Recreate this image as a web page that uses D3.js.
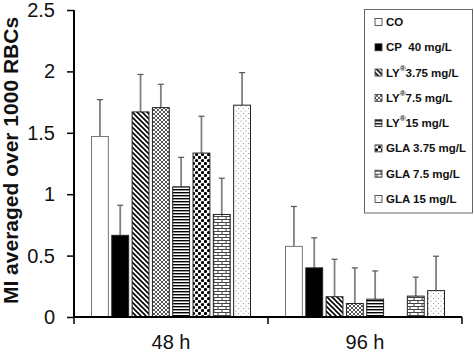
<!DOCTYPE html>
<html><head><meta charset="utf-8">
<script src="https://cdn.jsdelivr.net/npm/d3@7"></script>
<style>body{margin:0;background:#fff}svg{display:block}</style>
</head><body>
<svg id="c" width="474" height="354"></svg>
<script>
const categories = ["48 h", "96 h"];
const series = ["CO", "CP 40 mg/L", "LY 3.75 mg/L", "LY 7.5 mg/L", "LY 15 mg/L", "GLA 3.75 mg/L", "GLA 7.5 mg/L", "GLA 15 mg/L"];
const values48 = [1.47, 0.665, 1.67, 1.705, 1.06, 1.335, 0.835, 1.725];
const errors48 = [1.77, 0.91, 1.975, 1.895, 1.30, 1.635, 1.13, 1.99];
const values96 = [0.575, 0.40, 0.165, 0.11, 0.145, null, 0.17, 0.215];
const errors96 = [0.90, 0.645, 0.47, 0.40, 0.375, null, 0.325, 0.495];
const yTicks = [0, 0.5, 1, 1.5, 2, 2.5];

(function() {
const svg = d3.select("#c");
const defs = svg.append("defs");
function pat(id, w, h, draw) {
  const p = defs.append("pattern").attr("id", id).attr("patternUnits", "userSpaceOnUse").attr("width", w).attr("height", h);
  p.append("rect").attr("width", w).attr("height", h).attr("fill", "#fff");
  draw(p);
}
pat("pDiag", 5, 5, p => {
  p.append("path").attr("d", "M0,0 L5,5 M-1,4 L1,6 M4,-1 L6,1").attr("stroke", "#000").attr("stroke-width", 1.6);
});
pat("pCross", 4, 4, p => {
  p.append("path").attr("d", "M0,0 L4,4 M4,0 L0,4").attr("stroke", "#444").attr("stroke-width", 0.9);
});
pat("pHoriz", 4, 3, p => {
  p.append("rect").attr("y", 0).attr("width", 4).attr("height", 1.4).attr("fill", "#000");
});
pat("pDots", 6, 6, p => {
  p.append("circle").attr("cx", 1.5).attr("cy", 1.5).attr("r", 1.6).attr("fill", "#000");
  p.append("circle").attr("cx", 4.5).attr("cy", 4.5).attr("r", 1.6).attr("fill", "#000");
});
pat("pBrick", 8, 6, p => {
  p.append("path").attr("d", "M0,0.5 H8 M0,3.5 H8 M2,0.5 V3.5 M6,3.5 V6").attr("stroke", "#444").attr("stroke-width", 1).attr("fill", "none");
});
pat("pSparse", 5, 5, p => {
  p.append("circle").attr("cx", 1).attr("cy", 1).attr("r", 0.6).attr("fill", "#888");
  p.append("circle").attr("cx", 3.5).attr("cy", 3.5).attr("r", 0.6).attr("fill", "#888");
});
const fills = ["#fff", "#000", "url(#pDiag)", "url(#pCross)", "url(#pHoriz)", "url(#pDots)", "url(#pBrick)", "url(#pSparse)"];

const mLeft = 74, mRight = 462, mTop = 10, mBottom = 317;
const x0 = d3.scaleBand().domain(categories).range([mLeft, mRight]).padding(0);
const x1 = d3.scaleBand().domain(series).range([17.5, x0.bandwidth() - 17.5]).paddingInner(0.17).paddingOuter(0);
const y = d3.scaleLinear().domain([0, 2.5]).range([mBottom, mTop]);

const data = [];
categories.forEach((c, ci) => {
  const vals = ci === 0 ? values48 : values96;
  const errs = ci === 0 ? errors48 : errors96;
  series.forEach((s, si) => {
    if (vals[si] != null) data.push({c, s, si, v: vals[si], e: errs[si]});
  });
});

const g = svg.append("g");
g.selectAll(".err").data(data).join("g").each(function(d) {
  const cx = x0(d.c) + x1(d.s) + x1.bandwidth() / 2;
  const sel = d3.select(this);
  sel.append("line").attr("x1", cx).attr("x2", cx).attr("y1", y(d.v)).attr("y2", y(d.e)).attr("stroke", "#808080").attr("stroke-width", 1.8);
  sel.append("line").attr("x1", cx - 3).attr("x2", cx + 3).attr("y1", y(d.e)).attr("y2", y(d.e)).attr("stroke", "#555").attr("stroke-width", 1.2);
});
g.selectAll(".bar").data(data).join("rect")
  .attr("x", d => x0(d.c) + x1(d.s))
  .attr("width", x1.bandwidth())
  .attr("y", d => y(d.v))
  .attr("height", d => y(0) - y(d.v))
  .attr("fill", d => fills[d.si])
  .attr("stroke", d => d.si === 0 ? "#777" : "#222")
  .attr("stroke-width", 1);

const yAxis = d3.axisLeft(y).tickValues(yTicks).tickFormat(d3.format("")).tickSize(7).tickSizeOuter(0).tickPadding(12);
const ya = svg.append("g").attr("transform", `translate(${mLeft},0)`).call(yAxis);
ya.select(".domain").attr("stroke", "#000").attr("stroke-width", 2).attr("d", `M0,${mTop}V${mBottom + 1}`);
ya.selectAll(".tick line").attr("stroke", "#000").attr("stroke-width", 1.5);
ya.selectAll("text").attr("font-family", "Liberation Sans, Arial, sans-serif").attr("font-size", 20).attr("fill", "#111");

const xa = svg.append("g").attr("transform", `translate(0,${mBottom})`);
xa.append("line").attr("x1", mLeft).attr("x2", mRight).attr("stroke", "#000").attr("stroke-width", 2);
const bounds = categories.map(c => x0(c)).concat([mRight]);
xa.selectAll(".xt").data(bounds).join("line").attr("x1", d => d).attr("x2", d => d).attr("y1", 0).attr("y2", 7).attr("stroke", "#000").attr("stroke-width", 1.5);
xa.selectAll(".xl").data(categories).join("text")
  .attr("x", d => x0(d) + x0.bandwidth() / 2).attr("y", 32)
  .attr("text-anchor", "middle").attr("font-family", "Liberation Sans, Arial, sans-serif").attr("font-size", 20).attr("fill", "#111")
  .text(d => d);

svg.append("text").attr("transform", `translate(18,160.5) rotate(-90)`)
  .attr("text-anchor", "middle").attr("font-family", "Liberation Sans, Arial, sans-serif").attr("font-weight", "bold").attr("font-size", 21).attr("fill", "#111")
  .text("MI averaged over 1000 RBCs");

const lg = svg.append("g");
lg.append("rect").attr("x", 364.5).attr("y", 9.5).attr("width", 108).attr("height", 203.5).attr("fill", "#fff").attr("stroke", "#666").attr("stroke-width", 1);
const ly = d3.scaleLinear().domain([0, 7]).range([22, 199]);
const items = lg.selectAll(".li").data(series).join("g").attr("transform", (d, i) => `translate(375,${ly(i)})`);
items.append("rect").attr("x", 0).attr("y", -3.5).attr("width", 7).attr("height", 7)
  .attr("fill", (d, i) => fills[i]).attr("stroke", "#333").attr("stroke-width", 0.8);
items.append("text").attr("x", 11).attr("y", 4).attr("font-family", "Liberation Sans, Arial, sans-serif").attr("font-weight", "bold").attr("font-size", 11.5).attr("fill", "#111")
  .each(function(d) {
    const t = d3.select(this);
    if (d.startsWith("LY")) {
      t.append("tspan").text("LY");
      t.append("tspan").attr("font-size", 8).attr("dy", -6).text("®");
      t.append("tspan").attr("dy", 6).text(d.slice(3));
    } else if (d.startsWith("CP")) {
      t.text("CP\u00a0 40 mg/L");
    } else t.text(d);
  });
})();
</script>
</body></html>
